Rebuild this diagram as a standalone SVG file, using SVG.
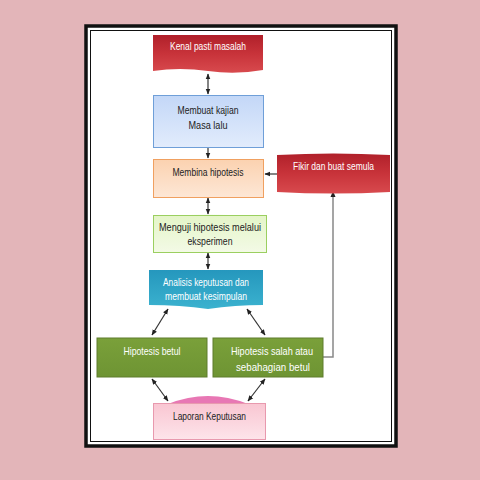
<svg xmlns="http://www.w3.org/2000/svg" width="480" height="480" viewBox="0 0 480 480">
<style>
.t{font-family:"Liberation Sans",Arial,sans-serif;font-size:11px;text-anchor:middle}
.w{fill:#ffffff}
.d{fill:#222222}
.c{stroke:#333333;stroke-width:1.2;fill:none}
.g{stroke:#888888;stroke-width:1.5;fill:none}
</style>
<defs>
<linearGradient id="red" x1="0" y1="0" x2="0" y2="1"><stop offset="0" stop-color="#b0202a"/><stop offset="0.5" stop-color="#c8333a"/><stop offset="1" stop-color="#d84a4e"/></linearGradient>
<linearGradient id="blue" x1="0" y1="0" x2="0" y2="1"><stop offset="0" stop-color="#c3d7f7"/><stop offset="1" stop-color="#e2ecfc"/></linearGradient>
<linearGradient id="peach" x1="0" y1="0" x2="0" y2="1"><stop offset="0" stop-color="#fbd2b0"/><stop offset="1" stop-color="#fde7d6"/></linearGradient>
<linearGradient id="lgreen" x1="0" y1="0" x2="0" y2="1"><stop offset="0" stop-color="#e4f5c8"/><stop offset="1" stop-color="#f3fae6"/></linearGradient>
<linearGradient id="teal" x1="0" y1="0" x2="0" y2="1"><stop offset="0" stop-color="#2597bd"/><stop offset="1" stop-color="#3bb2cf"/></linearGradient>
<linearGradient id="olive" x1="0" y1="0" x2="0" y2="1"><stop offset="0" stop-color="#7aa03a"/><stop offset="1" stop-color="#6e9433"/></linearGradient>
<linearGradient id="pink" x1="0" y1="0" x2="0" y2="1"><stop offset="0" stop-color="#f9c6d2"/><stop offset="1" stop-color="#fde4ea"/></linearGradient>
<radialGradient id="yglow" cx="0.5" cy="1" r="0.6"><stop offset="0" stop-color="#ffee30"/><stop offset="1" stop-color="#ffee30" stop-opacity="0"/></radialGradient>
<radialGradient id="gglow" cx="0.5" cy="1" r="0.6"><stop offset="0" stop-color="#9ee060"/><stop offset="1" stop-color="#9ee060" stop-opacity="0"/></radialGradient>
<marker id="ah" viewBox="0 0 10 10" refX="9" refY="5" markerWidth="5" markerHeight="5" orient="auto-start-reverse"><path d="M0,1 L10,5 L0,9 z" fill="#222222"/></marker>
</defs>
<rect x="0" y="0" width="480" height="480" fill="#e3b5b9"/>
<rect x="86" y="26" width="310" height="420" fill="#ffffff" stroke="#111111" stroke-width="3.5"/>
<rect x="90.5" y="30.5" width="301" height="411" fill="none" stroke="#111111" stroke-width="1"/>
<g id="connectors">
<line class="c" x1="208" y1="74" x2="208" y2="94" marker-start="url(#ah)" marker-end="url(#ah)"/>
<line class="c" x1="208" y1="148" x2="208" y2="158" marker-end="url(#ah)"/>
<line class="c" x1="208" y1="198" x2="208" y2="214" marker-start="url(#ah)" marker-end="url(#ah)"/>
<line class="c" x1="208" y1="253" x2="208" y2="269" marker-start="url(#ah)" marker-end="url(#ah)"/>
<line class="c" x1="168" y1="309" x2="152" y2="335" marker-start="url(#ah)" marker-end="url(#ah)"/>
<line class="c" x1="247" y1="309" x2="265" y2="335" marker-start="url(#ah)" marker-end="url(#ah)"/>
<line class="c" x1="152" y1="379" x2="168" y2="401" marker-start="url(#ah)" marker-end="url(#ah)"/>
<line class="c" x1="265" y1="379" x2="248" y2="401" marker-start="url(#ah)" marker-end="url(#ah)"/>
<polyline class="g" points="323,357 333,357 333,195"/>
<path d="M330.5,197 L333,191 L335.5,197 z" fill="#222222"/>
<line class="c" x1="277" y1="174" x2="265" y2="174" marker-end="url(#ah)"/>
</g>
<g id="n1">
<path d="M153,35 H263 V70 Q235,75 208,71 Q180,67 153,71 Z" fill="url(#red)"/>
<text class="t w" x="208" y="50" textLength="76" lengthAdjust="spacingAndGlyphs">Kenal pasti masalah</text>
</g>
<g id="n2">
<rect x="153.5" y="95.5" width="110" height="52" fill="url(#blue)" stroke="#6f9fd8" stroke-width="1"/>
<text class="t d" x="208" y="114" textLength="61" lengthAdjust="spacingAndGlyphs">Membuat kajian</text>
<text class="t d" x="208" y="129" textLength="39" lengthAdjust="spacingAndGlyphs">Masa lalu</text>
</g>
<g id="n3">
<ellipse cx="208" cy="160" rx="45" ry="5" fill="url(#yglow)"/>
<rect x="153.5" y="159.5" width="110" height="38" fill="url(#peach)" stroke="#f0a060" stroke-width="1"/>
<text class="t d" x="208" y="176" textLength="71" lengthAdjust="spacingAndGlyphs">Membina hipotesis</text>
</g>
<g id="n4">
<ellipse cx="209" cy="215" rx="45" ry="4" fill="url(#gglow)"/>
<rect x="153.5" y="215.5" width="113" height="37" fill="url(#lgreen)" stroke="#9bcf60" stroke-width="1"/>
<text class="t d" x="210" y="231" textLength="102" lengthAdjust="spacingAndGlyphs">Menguji hipotesis melalui</text>
<text class="t d" x="210" y="245" textLength="45" lengthAdjust="spacingAndGlyphs">eksperimen</text>
</g>
<g id="n5">
<path d="M149,270 H263 V305 Q235,305 208,309 Q180,305 149,305 Z" fill="url(#teal)"/>
<text class="t w" x="206" y="286" textLength="86" lengthAdjust="spacingAndGlyphs">Analisis keputusan dan</text>
<text class="t w" x="206" y="300" textLength="82" lengthAdjust="spacingAndGlyphs">membuat kesimpulan</text>
</g>
<g id="n6">
<rect x="97" y="338" width="110" height="39" fill="url(#olive)" stroke="#5e7d2c" stroke-width="1"/>
<text class="t w" x="152" y="355" textLength="57" lengthAdjust="spacingAndGlyphs">Hipotesis betul</text>
</g>
<g id="n7">
<rect x="213" y="338" width="110" height="39" fill="url(#olive)" stroke="#5e7d2c" stroke-width="1"/>
<text class="t w" x="272" y="355" textLength="82" lengthAdjust="spacingAndGlyphs">Hipotesis salah atau</text>
<text class="t w" x="273" y="371" textLength="74" lengthAdjust="spacingAndGlyphs">sebahagian betul</text>
</g>
<g id="n8">
<path d="M168,404 Q208,388 248,404 Z" fill="#e877b4"/>
<rect x="153.5" y="403.5" width="112" height="36" fill="url(#pink)" stroke="#e899ae" stroke-width="1"/>
<text class="t d" x="209.5" y="420" textLength="73" lengthAdjust="spacingAndGlyphs">Laporan Keputusan</text>
</g>
<g id="n9">
<path d="M277,155 Q333,152 390,155 V192 Q333,195 277,192 Z" fill="url(#red)"/>
<text class="t w" x="333.5" y="170" textLength="81" lengthAdjust="spacingAndGlyphs">Fikir dan buat semula</text>
</g>
</svg>
